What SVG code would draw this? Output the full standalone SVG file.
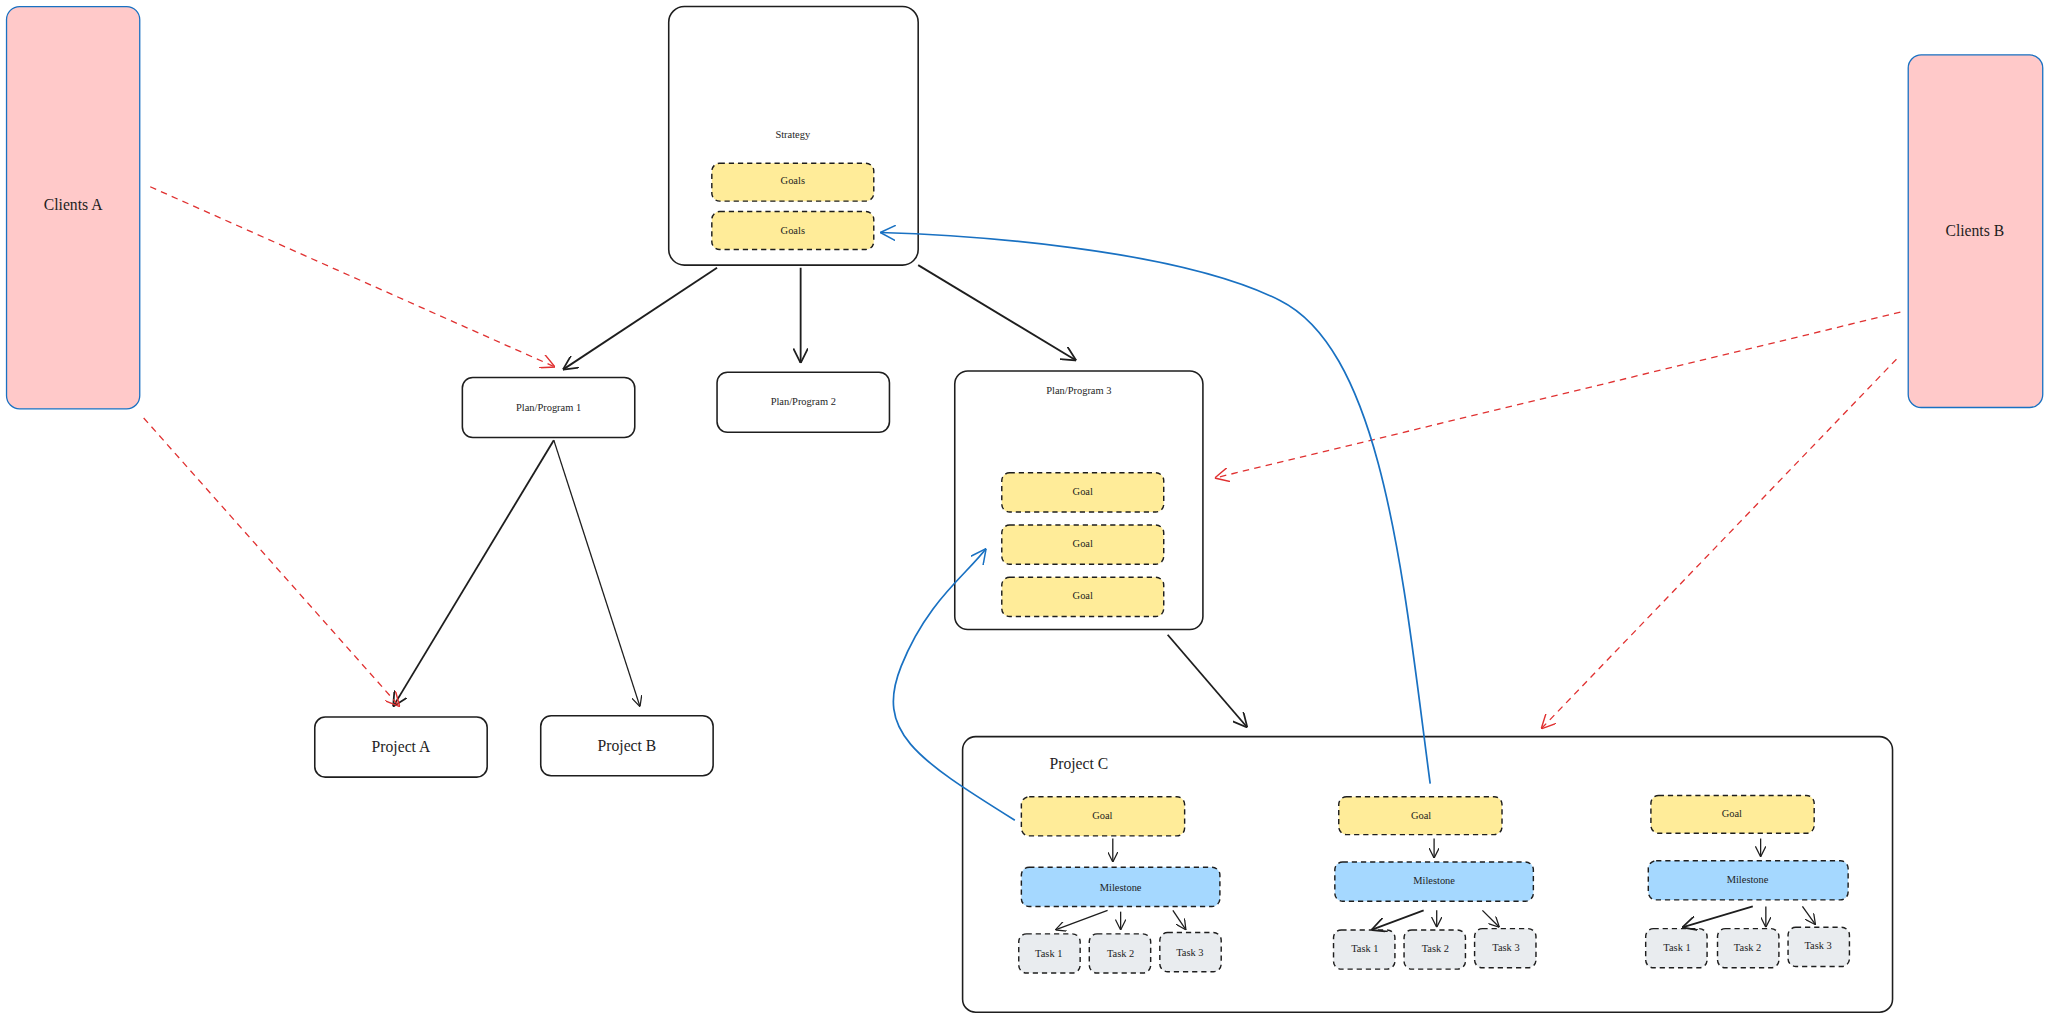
<svg xmlns="http://www.w3.org/2000/svg" width="2048" height="1020" viewBox="0 0 2048 1020">
<defs>
<style>
text{font-family:"Liberation Serif",serif;fill:#1e1e1e;text-anchor:middle;dominant-baseline:middle}
.s{font-size:8px}.m{font-size:9px}.l{font-size:12px}
.box{fill:#fff;stroke:#1e1e1e;stroke-width:1.2}
.cl{fill:#ffc9c9;stroke:#1971c2;stroke-width:1}
.goal{fill:#ffec99;stroke:#1e1e1e;stroke-width:1.1;stroke-dasharray:4 3}
.ms{fill:#a5d8ff;stroke:#1e1e1e;stroke-width:1.1;stroke-dasharray:4 3}
.task{fill:#e9ecef;stroke:#1e1e1e;stroke-width:1.1;stroke-dasharray:4 3}
.k{stroke:#1e1e1e;fill:none;stroke-width:1.4;marker-end:url(#ak)}
.kt{stroke:#1e1e1e;fill:none;stroke-width:1;marker-end:url(#ak)}
.r{stroke:#e03131;fill:none;stroke-width:1;stroke-dasharray:5 4;marker-end:url(#ar)}
.b{stroke:#1971c2;fill:none;stroke-width:1.3;marker-end:url(#ab)}
</style>
<marker id="ak" viewBox="0 0 10 10" refX="10" refY="5" markerWidth="8" markerHeight="8" orient="auto"><path d="M0,0 L10,5 L0,10" fill="none" stroke="#1e1e1e" stroke-width="1.2"/></marker>
<marker id="ar" viewBox="0 0 10 10" refX="10" refY="5" markerWidth="11" markerHeight="11" orient="auto"><path d="M0,0 L10,5 L0,10" fill="none" stroke="#e03131" stroke-width="1"/></marker>
<marker id="ab" viewBox="0 0 10 10" refX="10" refY="5" markerWidth="9" markerHeight="9" orient="auto"><path d="M0,0 L10,5 L0,10" fill="none" stroke="#1971c2" stroke-width="1"/></marker>
</defs>
<rect width="2048" height="1020" fill="#fff"/>
<g transform="scale(1.3061)">
<g id="clientsA"><rect class="cl" x="5" y="5" width="102" height="308" rx="10"/><text class="l" x="56" y="158">Clients A</text></g>
<g id="clientsB"><rect class="cl" x="1461" y="42" width="103" height="270" rx="10"/><text class="l" x="1512" y="178">Clients B</text></g>
<g id="strategy"><rect class="box" x="512" y="5" width="191" height="198" rx="12"/><text class="s" x="607" y="104">Strategy</text>
<rect class="goal" x="545" y="125" width="124" height="29" rx="6"/><text class="s" x="607" y="139">Goals</text>
<rect class="goal" x="545" y="162" width="124" height="29" rx="6"/><text class="s" x="607" y="177">Goals</text></g>
<g id="pp1"><rect class="box" x="354" y="289" width="132" height="46" rx="8"/><text class="s" x="420" y="313">Plan/Program 1</text></g>
<g id="pp2"><rect class="box" x="549" y="285" width="132" height="46" rx="8"/><text class="s" x="615" y="308">Plan/Program 2</text></g>
<g id="pp3"><rect class="box" x="731" y="284" width="190" height="198" rx="10"/><text class="s" x="826" y="300">Plan/Program 3</text>
<rect class="goal" x="767" y="362" width="124" height="30" rx="6"/><text class="s" x="829" y="377">Goal</text>
<rect class="goal" x="767" y="402" width="124" height="30" rx="6"/><text class="s" x="829" y="417">Goal</text>
<rect class="goal" x="767" y="442" width="124" height="30" rx="6"/><text class="s" x="829" y="457">Goal</text></g>
<g id="projectA"><rect class="box" x="241" y="549" width="132" height="46" rx="8"/><text class="l" x="307" y="573">Project A</text></g>
<g id="projectB"><rect class="box" x="414" y="548" width="132" height="46" rx="8"/><text class="l" x="480" y="572">Project B</text></g>
<g id="projectC"><rect class="box" x="737" y="564" width="712" height="211" rx="10"/><text class="l" x="826" y="586">Project C</text>
<rect class="goal" x="782" y="610" width="125" height="30" rx="6"/><text class="s" x="844" y="625">Goal</text>
<rect class="ms" x="782" y="664" width="152" height="30" rx="6"/><text class="s" x="858" y="680">Milestone</text>
<rect class="task" x="780" y="715" width="47" height="30" rx="6"/><text class="s" x="803" y="731">Task 1</text>
<rect class="task" x="834" y="715" width="47" height="30" rx="6"/><text class="s" x="858" y="731">Task 2</text>
<rect class="task" x="888" y="714" width="47" height="30" rx="6"/><text class="s" x="911" y="730">Task 3</text>
<rect class="goal" x="1025" y="610" width="125" height="29" rx="6"/><text class="s" x="1088" y="625">Goal</text>
<rect class="ms" x="1022" y="660" width="152" height="30" rx="6"/><text class="s" x="1098" y="675">Milestone</text>
<rect class="task" x="1021" y="712" width="47" height="30" rx="6"/><text class="s" x="1045" y="727">Task 1</text>
<rect class="task" x="1075" y="712" width="47" height="30" rx="6"/><text class="s" x="1099" y="727">Task 2</text>
<rect class="task" x="1129" y="711" width="47" height="30" rx="6"/><text class="s" x="1153" y="726">Task 3</text>
<rect class="goal" x="1264" y="609" width="125" height="29" rx="6"/><text class="s" x="1326" y="624">Goal</text>
<rect class="ms" x="1262" y="659" width="153" height="30" rx="6"/><text class="s" x="1338" y="674">Milestone</text>
<rect class="task" x="1260" y="711" width="47" height="30" rx="6"/><text class="s" x="1284" y="726">Task 1</text>
<rect class="task" x="1315" y="711" width="47" height="30" rx="6"/><text class="s" x="1338" y="726">Task 2</text>
<rect class="task" x="1369" y="710" width="47" height="30" rx="6"/><text class="s" x="1392" y="725">Task 3</text></g>
<g id="connectors">
<path class="k" d="M549,205 L431,283"/>
<path class="k" d="M613,205 L613,278"/>
<path class="k" d="M703,203 L824,276"/>
<path class="k" d="M424,337 L301,541"/>
<path class="kt" d="M424,337 L490,541"/>
<path class="k" d="M894,486 L955,557"/>
<path class="r" d="M115,143 L425,281"/>
<path class="r" d="M110,320 L306,541"/>
<path class="r" d="M1455,239 L930,366"/>
<path class="r" d="M1452,275 L1180,558"/>
<path class="b" d="M777,628 C700,580 670,560 690,510 S740,440 755,420"/>
<path class="b" d="M1095,600 C1075,450 1060,270 980,230 C900,190 740,180 674,178"/>
<path class="kt" d="M852,642 L852,660"/>
<path class="kt" d="M848,697 L808,712"/>
<path class="kt" d="M858,698 L858,712"/>
<path class="kt" d="M898,697 L908,712"/>
<path class="kt" d="M1098,642 L1098,657"/>
<path class="k" d="M1090,697 L1050,712"/>
<path class="kt" d="M1100,697 L1100,710"/>
<path class="kt" d="M1135,697 L1148,710"/>
<path class="kt" d="M1348,642 L1348,656"/>
<path class="k" d="M1342,694 L1288,710"/>
<path class="kt" d="M1352,694 L1352,710"/>
<path class="kt" d="M1380,694 L1390,708"/>
</g>
</g>
</svg>
